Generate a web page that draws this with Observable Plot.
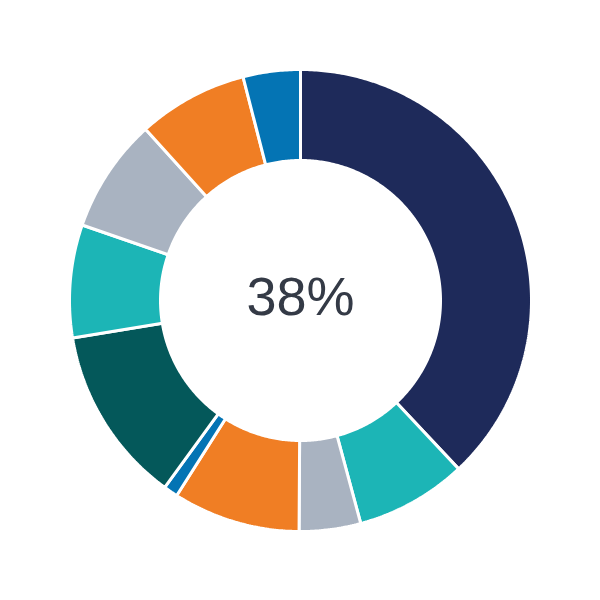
<!DOCTYPE html>
<html>
<head>
<meta charset="utf-8">
<script src="https://cdn.jsdelivr.net/npm/d3@7"></script>
<script src="https://cdn.jsdelivr.net/npm/@observablehq/plot@0.6"></script>
<style>
  body { margin: 0; background: #fff; }
</style>
</head>
<body>
<div id="chart"></div>
<script>
const segments = ["A", "B", "C", "D", "E", "F", "G", "H", "I", "J"];
const values = [38, 7.8, 4.3, 8.9, 1.0, 12.4, 7.9, 8.0, 7.7, 4.0];
const colors = ["#1e2a5a", "#1cb5b6", "#a9b3c1", "#f07e24", "#0474b4", "#04585a", "#1cb5b6", "#a9b3c1", "#f07e24", "#0474b4"];
const centerLabel = "38%";

const innerR = 140 / 231;
const outerR = 1;

const pie = d3.pie().sort(null).value(d => d.value)(segments.map((s, i) => ({name: s, value: values[i], color: colors[i]})));

const pts = [];
pie.forEach(arc => {
  const n = Math.max(4, Math.ceil((arc.endAngle - arc.startAngle) / 0.01));
  const ring = [];
  for (let k = 0; k <= n; k++) {
    const a = arc.startAngle + (arc.endAngle - arc.startAngle) * k / n;
    ring.push([outerR * Math.sin(a), outerR * Math.cos(a)]);
  }
  for (let k = n; k >= 0; k--) {
    const a = arc.startAngle + (arc.endAngle - arc.startAngle) * k / n;
    ring.push([innerR * Math.sin(a), innerR * Math.cos(a)]);
  }
  ring.push(ring[0]);
  ring.forEach(([x, y]) => pts.push({name: arc.data.name, color: arc.data.color, x, y}));
});

const chart = Plot.plot({
  width: 600,
  height: 600,
  marginLeft: 69,
  marginRight: 69,
  marginTop: 69,
  marginBottom: 69,
  x: {domain: [-1, 1], axis: null},
  y: {domain: [-1, 1], axis: null},
  marks: [
    Plot.line(pts, {x: "x", y: "y", z: "name", fill: d => d.color, stroke: "#ffffff", strokeWidth: 3, strokeLinejoin: "miter", curve: "linear"}),
    Plot.text([centerLabel], {frameAnchor: "middle", text: d => d, fontSize: 54, fill: "#343a46", fontFamily: "Liberation Sans, Arial, sans-serif", dy: -3})
  ]
});
document.getElementById("chart").append(chart);
</script>
</body>
</html>
